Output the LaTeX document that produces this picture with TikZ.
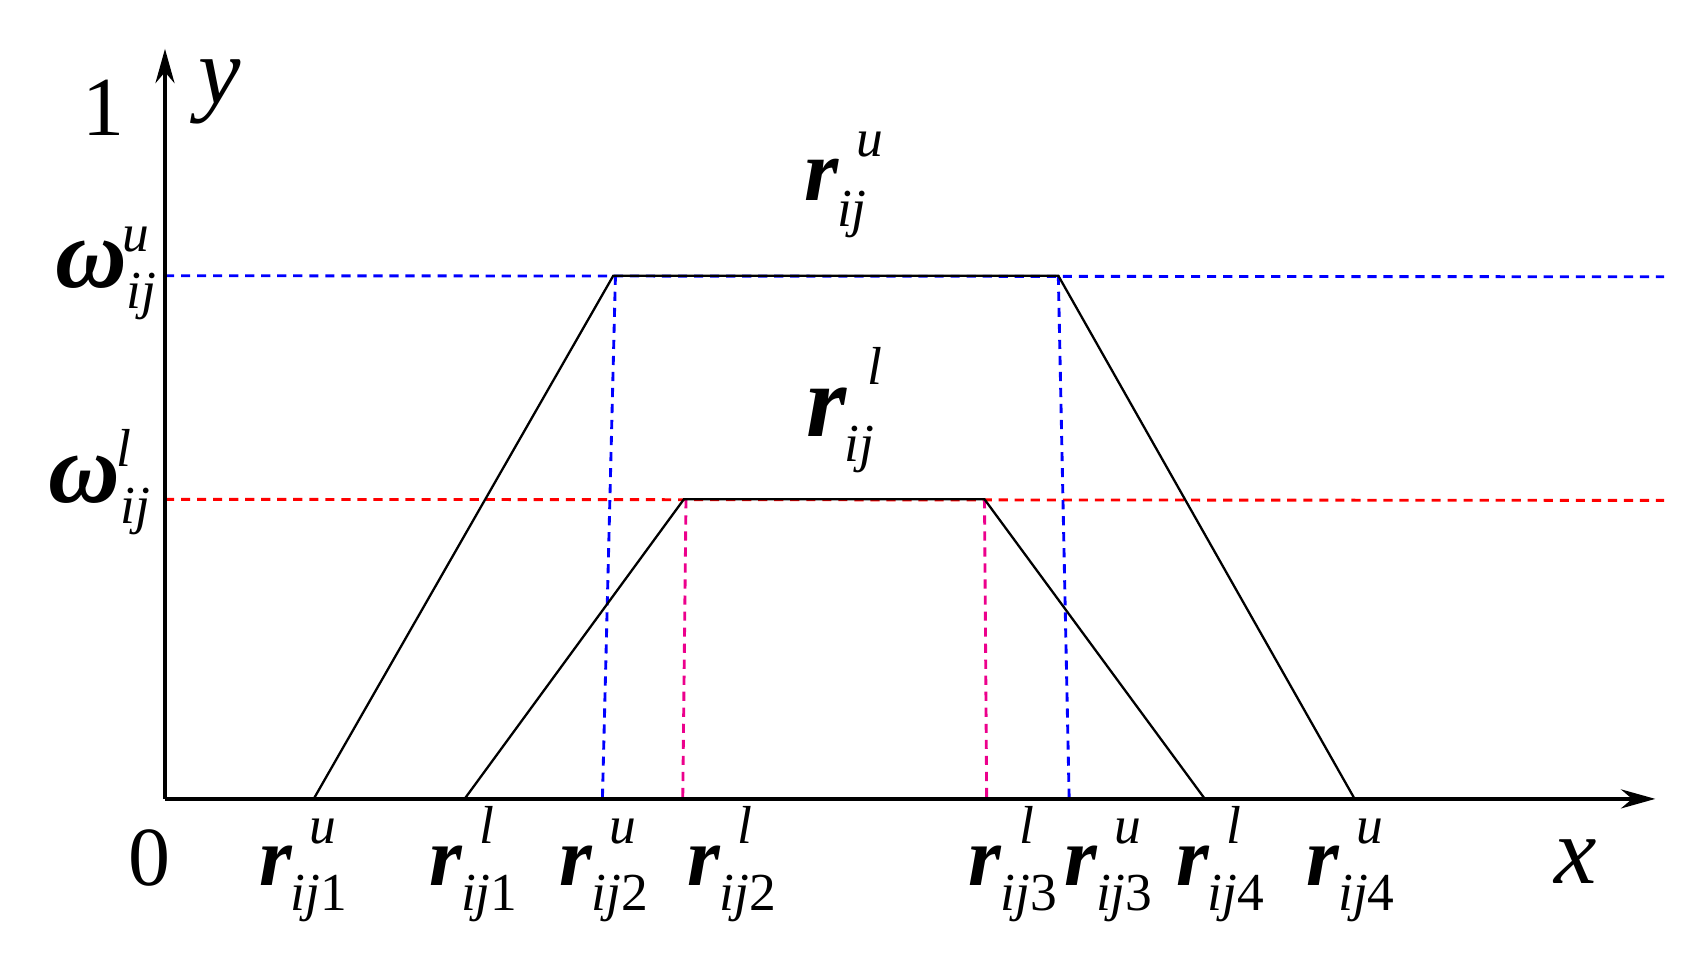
\documentclass[tikz,border=0pt]{standalone}
\usepackage{fontspec}
\setmainfont{Liberation Serif}[ItalicFont={Liberation Serif Italic},BoldFont={Liberation Serif Bold},BoldItalicFont={Liberation Serif Bold Italic}]
\usetikzlibrary{arrows.meta}
\newcommand\rlab[3]{{\fontsize{#1}{#1}\selectfont\textbf{\textit{r}}\rlap{\hspace{0.2em}\raisebox{0.5em}{\fontsize{14}{14}\selectfont\textit{#2}}}\hspace{-0.02em}}\raisebox{-0.3em}{\fontsize{14}{14}\selectfont\textit{ij}#3}}
\newcommand\wlab[2]{{\fontsize{26}{26}\selectfont\textbf{\textit{ω}}\rlap{\hspace{-0.04em}\raisebox{0.36em}{\fontsize{14}{14}\selectfont\textit{#1}}}}\raisebox{-0.25em}{\fontsize{14}{14}\selectfont\textit{#2}}}
\begin{document}
\begin{tikzpicture}[x=0.01cm,y=-0.01cm,
  axis/.style={line width=0.9pt,-{Stealth[length=9pt,width=5pt]}},
  trap/.style={line width=0.6pt},
  bluedash/.style={blue,line width=0.75pt,dash pattern=on 2.4pt off 1.8pt},
  reddash/.style={red,line width=0.75pt,dash pattern=on 2.4pt off 1.8pt},
  magdash/.style={magenta,line width=0.75pt,dash pattern=on 2.4pt off 1.8pt},
  lab/.style={inner sep=0pt,anchor=base west,font=\fontsize{22}{22}\selectfont},
  num/.style={inner sep=0pt,anchor=base,font=\fontsize{22}{22}\selectfont}]
\useasboundingbox (0,0) rectangle (1568,881);
% coordinates
\coordinate (O) at (152,736);
\coordinate (ytip) at (152,45);
\coordinate (xtip) at (1525,736);
\coordinate (ua) at (289,736);
\coordinate (ub) at (565,254);
\coordinate (uc) at (975,254);
\coordinate (ud) at (1248,736);
\coordinate (la) at (428,736);
\coordinate (lb) at (630,460);
\coordinate (lc) at (907,460);
\coordinate (ld) at (1110,736);
\coordinate (bl0) at (152,254);
\coordinate (bl1) at (1533,255);
\coordinate (rl0) at (152,460);
\coordinate (rl1) at (1533,461);
\coordinate (bv1t) at (567,254);
\coordinate (bv1b) at (555,736);
\coordinate (bv2t) at (975,254);
\coordinate (bv2b) at (985,736);
\coordinate (mv1t) at (632,460);
\coordinate (mv1b) at (629,736);
\coordinate (mv2t) at (907,460);
\coordinate (mv2b) at (909,736);
% dashed guide lines
\draw[bluedash] (bl0) -- (bl1);
\draw[reddash] (rl0) -- (rl1);
\draw[bluedash] (bv1t) -- (bv1b);
\draw[bluedash] (bv2t) -- (bv2b);
\draw[magdash] (mv1t) -- (mv1b);
\draw[magdash] (mv2t) -- (mv2b);
% trapezoids
\draw[trap] (ua) -- (ub) -- (uc) -- (ud);
\draw[trap] (la) -- (lb) -- (lc) -- (ld);
% axes
\draw[axis] (O) -- (ytip);
\draw[axis] (O) -- (xtip);
% labels
\node[num] (one) at (95,125) {1};
\node[num] (zero) at (138,816) {0};
\node[lab,font=\fontsize{25}{25}\selectfont] (ylab) at (182,95) {\textit{y}};
\node[num,font=\fontsize{25}{25}\selectfont] (xlab) at (1452,814) {\textit{x}};
\node[lab] (wu) at (50,265) {\wlab{u}{ij}};
\node[lab] (wl) at (44,463) {\wlab{l}{ij}};
\node[lab] (ru) at (740,185) {\rlab{23}{u}{}};
\node[lab] (rl) at (742,402) {\rlab{27}{l}{}};
\node[lab] (r1u) at (238,816) {\rlab{22}{u}{1}};
\node[lab] (r1l) at (395,816) {\rlab{22}{l}{1}};
\node[lab] (r2u) at (515,816) {\rlab{22}{u}{2}};
\node[lab] (r2l) at (633,816) {\rlab{22}{l}{2}};
\node[lab] (r3l) at (892,816) {\rlab{22}{l}{3}};
\node[lab] (r3u) at (980,816) {\rlab{22}{u}{3}};
\node[lab] (r4l) at (1083,816) {\rlab{22}{l}{4}};
\node[lab] (r4u) at (1203,816) {\rlab{22}{u}{4}};
\end{tikzpicture}
\end{document}
